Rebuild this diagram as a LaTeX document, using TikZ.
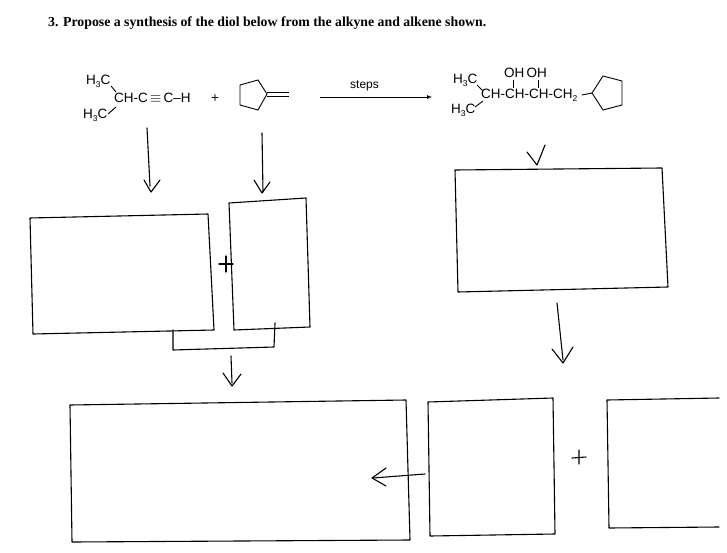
\documentclass[tikz,border=0pt]{standalone}
\usepackage{fontspec}
\setmainfont{Liberation Serif}
\newfontfamily\chem{Liberation Sans}
\newcommand{\sbs}[1]{\raisebox{-0.3ex}{\fontsize{8.5}{9}\selectfont #1}}
\begin{document}
\begin{tikzpicture}[x=1pt,y=-1pt,
  hand/.style={line width=1.1pt,black,line cap=round,line join=round},
  chemtxt/.style={font=\chem\fontsize{13.5}{14}\selectfont,inner sep=0pt,anchor=base west},
  bond/.style={line width=0.9pt}]
\useasboundingbox[fill=white] (0,0) rectangle (727,553);
\node[anchor=base west,font=\bfseries\fontsize{13.8}{16}\selectfont,inner sep=0pt] (title) at (48,27) {3. Propose a synthesis of the diol below from the alkyne and alkene shown.};
% alkyne
\node[chemtxt] (a1) at (86,85) {H\sbs{3}C};
\node[chemtxt] (a2) at (114,103) {CH-C\,$\equiv$\,C\textendash H};
\node[chemtxt] (a3) at (83,119) {H\sbs{3}C};
\draw[bond] (111,86) -- (116,92);
\draw[bond] (108,114) -- (116,107);
\node[chemtxt] (plus1) at (211,103) {+};
% alkene
\draw[bond] (258,80) -- (267,94) -- (258,110) -- (240,105) -- (240,85) -- cycle;
\draw[bond] (267,92) -- (289,92);
\draw[bond] (267,96) -- (289,96);
% steps arrow
\node[chemtxt,font=\chem\fontsize{12}{13}\selectfont] (steps) at (350,89) {steps};
\coordinate (s1) at (320,97); \coordinate (s2) at (432,97);
\draw[line width=0.7pt,-latex] (s1) -- (s2);
% product
\node[chemtxt] (p1) at (453,84) {H\sbs{3}C};
\node[chemtxt] (p0) at (504,78) {OH\,OH};
\node[chemtxt] (p2) at (481,99) {CH-CH-CH-CH\sbs{2}};
\node[chemtxt] (p3) at (451,114) {H\sbs{3}C};
\draw[bond] (477,85) -- (483,91);
\draw[bond] (475,107) -- (483,101);
\draw[bond] (513,80) -- (513,88);
\draw[bond] (538,80) -- (538,88);
\draw[bond] (582,95) -- (592,93);
\draw[bond] (592,93) -- (603,76) -- (622,81) -- (622,105) -- (603,110) -- cycle;
% hand arrows
\draw[hand] (147,128) -- (150,186);
\draw[hand] (144,180) -- (151,192) -- (160,180);
\draw[hand] (262,133) -- (263,192);
\draw[hand] (254,180) -- (262,193) -- (270,182);
\draw[hand] (527,152) -- (537,165) -- (545,145);
% boxes
\draw[hand] (30,218) -- (208,214) -- (214,330) -- (33,334) -- cycle;
\draw[hand] (229,203) -- (306,198) -- (310,327) -- (234,330) -- cycle;
\draw[hand] (219,264) -- (233,264) (226,256) -- (226,272);
\draw[hand] (455,170) -- (662,168) -- (668,287) -- (458,292) -- cycle;
\draw[hand] (173,330) -- (173,350) -- (274,347) -- (275,323);
\draw[hand] (231,356) -- (232,383);
\draw[hand] (223,373) -- (232,386) -- (241,374);
\draw[hand] (557,303) -- (563,360);
\draw[hand] (552,349) -- (563,363) -- (573,347);
\draw[hand] (70,405) -- (406,400) -- (410,540) -- (72,542) -- cycle;
\draw[hand] (428,402) -- (553,398) -- (555,534) -- (430,536) -- cycle;
\draw[hand] (572,458) -- (586,457) (579,450) -- (579,464);
\draw[hand] (607,400) -- (719,398) (607,400) -- (609,528) -- (719,527);
\draw[hand] (425,474) -- (373,478);
\draw[hand] (386,468) -- (372,478) -- (386,486);
\end{tikzpicture}
\end{document}
